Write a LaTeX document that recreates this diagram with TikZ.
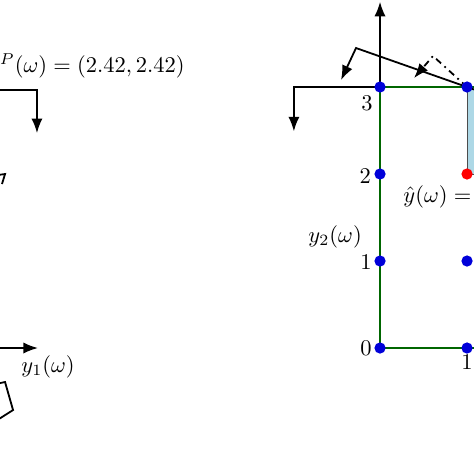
\documentclass[tikz,border=0pt]{standalone}
\usetikzlibrary{arrows.meta}

\colorlet{pathGreen}{green!40!black}
\colorlet{pointBlue}{blue!85!black}
\definecolor{boxBlue}{RGB}{173,216,230}

\begin{document}
\begin{tikzpicture}[x=1.36cm,y=1.36cm,>={Latex[length=6.5pt,width=5pt]},
	pt/.style={circle,fill=#1,inner sep=0pt,minimum size=5pt},
	cone/.style={thick,black}]
\useasboundingbox (-4.368,-1.448) rectangle (1.080,4.0);
\clip (-4.368,-1.448) rectangle (1.080,4.0);
% grid points of the right panel
\foreach \x/\y in {0/0,0/1,0/2,0/3,1/0,1/1,1/2,1/3}
{%
	\coordinate (c \x\y) at (\x,\y);
}%
\coordinate (green right) at (1.3,3);
\coordinate (green low) at (1.3,0);
\coordinate (axis top) at (0,3.98);
\draw[fill=boxBlue,draw=gray!60!black] (c 12) rectangle (1.5,3);
\draw[pathGreen,thick] (green low) -- (c 00) -- (c 03) -- (green right);
\draw[->,thick] (c 03) -- (axis top);
% cones
\coordinate (cone a) at (-0.99,3);
\coordinate (cone a tip) at (-0.99,2.49);
\draw[cone,->] (c 03) -- (cone a) -- (cone a tip);
\coordinate (cone b start) at (1.25,2.912);
\coordinate (cone b) at (-0.276,3.448);
\coordinate (cone b tip) at (-0.448,3.08);
\draw[cone,->] (cone b start) -- (cone b) -- (cone b tip);
\coordinate (cone c) at (0.609,3.356);
\coordinate (cone c tip) at (0.391,3.103);
\draw[cone,dash dot,->] (c 13) -- (cone c) -- (cone c tip);
\foreach \x/\y in {0/0,0/1,0/2,0/3,1/0,1/1,1/3}
{%
	\node[pt=pointBlue] (p \x\y) at (c \x\y) {};
}%
\node[pt=red] (p 12) at (c 12) {};
\node (lab 0) at (-0.16,0) {$0$};
\node (lab 1) at (-0.16,0.99) {$1$};
\node (lab 2) at (-0.17,1.97) {$2$};
\node (lab 3) at (-0.15,2.81) {$3$};
\node (lab x1) at (1,-0.16) {$1$};
\node (y2 label) at (-0.517,1.276) {$y_2(\omega)$};
\node[anchor=west,inner sep=0pt] (yhat label) at (0.264,1.736) {$\hat{y}(\omega) =$};
% left panel
\node[anchor=base east,inner sep=0pt] (yP label) at (-2.241,3.167) {$^P(\omega) = (2.42, 2.42)$};
\coordinate (left ray) at (-4.5,2.966);
\coordinate (cone d) at (-3.943,2.966);
\coordinate (cone d tip) at (-3.943,2.47);
\draw[cone,->] (left ray) -- (cone d) -- (cone d tip);
\coordinate (y1 start) at (-4.5,0);
\coordinate (y1 end) at (-3.931,0);
\draw[cone,->] (y1 start) -- (y1 end);
\node (y1 label) at (-3.816,-0.218) {$y_1(\omega)$};
\draw[cone] (-4.45,1.98) -- (-4.31,2.0) -- (-4.345,1.885);
\draw[cone] (-4.45,-0.42) -- (-4.31,-0.391) -- (-4.218,-0.713) -- (-4.45,-0.86);
\end{tikzpicture}
\end{document}
